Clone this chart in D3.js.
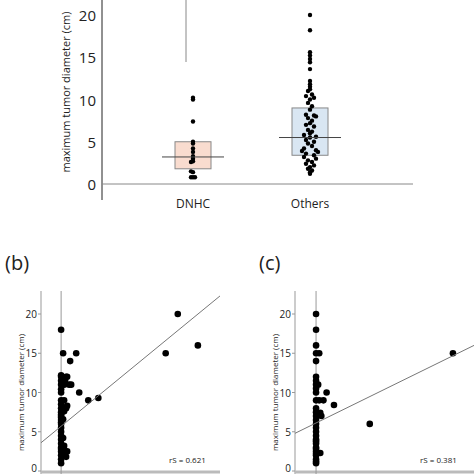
<!DOCTYPE html>
<html><head><meta charset="utf-8">
<script src="https://cdn.jsdelivr.net/npm/d3@7"></script>
<style>body{margin:0;background:#fff}text{font-family:"Open Sans",sans-serif;fill:#222}</style>
</head><body><svg id="c" width="474" height="474"></svg>
<script>
// (a) group data
const groups = ["DNHC", "Others"];
const boxLow = [1.8, 3.4], boxHigh = [5, 9], medians = [3.2, 5.5];
const boxColors = ["#f9dccf", "#d9e6f2"];
const dnhcVals = [10.2, 10, 7.4, 5, 4.8, 4.2, 3.8, 3.3, 3, 2.7, 2.6, 1.5, 1.4, 0.8, 0.8, 0.8];
const dnhcOff  = [0, 0, 0, 0, 0, 0, 0, 0, 0, 0, -1, -1, 0, -1, 0, 1];
const othersVals = [20, 18.2, 15.6, 15.2, 14.8, 14.4, 13.6, 12.2, 11.8, 11.5, 11.2, 11, 10.6, 10.4, 10.2, 10, 9.6, 9.2, 8.8,
  8.2, 8.1, 8, 7.8, 7.5, 7.2, 7, 6.8, 6.4, 6.2, 6, 5.8, 5.6, 5.5, 5.2, 5, 4.8, 4.5, 4.2, 4, 3.9, 3.8, 3.6, 3.4,
  3.2, 3, 2.8, 2.6, 2.4, 2.2, 2, 1.8, 1.6, 1.4, 1.2];
const othersOff = [0, 0, 0, 0, 0, 0, 0, 0, 0, 0, 0, -1, 1, -2, 2, 0, -1, 1, 0,
  -2, 2, 3, -1, 1, 0, -2, 2, -1, 1, 0, -3, 3, 0, -2, 2, -1, 1, -3, 3, -4, 4, -2, 2,
  -3, 3, -1, 1, -2, 2, 0, -1, 1, 0, 0];
// (b) scatter
const bX = [0,0,0,0,0,0,0,0,0,0,0,0,0,0,0,0,0,0,0,0,0,0,0,0,0,0,0,0,0.3,0.2,0.4,0.5,0.6,0.2,0.3,
  0.2, 1.5, 0.9, 0.5, 0.6, 0.8, 0.3, 1, 1.8, 2.7, 3.7, 0.5, 0.6, 11.6, 13.6, 10.4, 0.4, 0.3];
const bY = [18,12.2,12,11.5,11,10.4,10,9,8.5,8,7.5,7.2,7,6.8,6.5,6.2,6,5.5,5,4.5,4,3.5,3,2.8,2.5,2,1.5,1,7.6,6.6,2.5,1.8,2.5,4.2,3.2,
  15, 15, 14, 12, 12, 11, 11, 11, 10, 9, 9.3, 8, 8.3, 20, 16, 15, 11.5, 9];
const bLine = {x: [-2, 15.8], y: [3.6, 22.3]};
// (c) scatter
const cX = [0,0,0,0,0,0,0,0,0,0,0,0,0,0,0,0,0,0,0,0,0,0,0,0,0,0,0,0,0,0,0.3,0.2,0.3,0.4,
  13, 5.1, 1, 0.7, 1.7, 0.4, 0.5];
const cY = [20,18,16,15,14,12,11.5,11,10.5,10,9,8,7.5,7,6.5,6,5.5,5,4.5,4,3.5,3,2.8,2.5,2.2,2,1.5,1.2,1,3.8,15,11,9,2.3,
  15, 6, 10, 9, 8.4, 7.4, 7];
const cLine = {x: [-2, 15], y: [4.8, 16]};
const yTicks = [0, 5, 10, 15, 20];

const svg = d3.select("#c");

// ---- panel (a)
const ya = d3.scaleLinear().domain([0, 20]).range([184, 15]);
const xa = d3.scalePoint().domain(groups).range([193, 310]);
svg.append("line").attr("x1", 102).attr("x2", 102).attr("y1", 0).attr("y2", 200).attr("stroke", "#222");
svg.append("line").attr("x1", 102).attr("x2", 413).attr("y1", ya(0)).attr("y2", ya(0)).attr("stroke", "#888");
svg.append("line").attr("x1", 186).attr("x2", 186).attr("y1", 0).attr("y2", 62).attr("stroke", "#888");
yTicks.forEach(t => svg.append("text").attr("x", 96).attr("y", ya(t) + 6).attr("text-anchor", "end")
  .attr("font-size", 15).text(t));
svg.append("text").attr("transform", "translate(70,92) rotate(-90)").attr("text-anchor", "middle")
  .attr("font-size", 11).text("maximum tumor diameter (cm)");
groups.forEach((g, i) => {
  const cx = xa(g);
  svg.append("rect").attr("x", cx - 18).attr("width", 36).attr("y", ya(boxHigh[i]))
    .attr("height", ya(boxLow[i]) - ya(boxHigh[i])).attr("fill", boxColors[i]).attr("stroke", "#888");
  svg.append("text").attr("x", cx).attr("y", 208).attr("text-anchor", "middle").attr("font-size", 12).text(g);
});
const dots = (vals, off, g) => vals.forEach((v, i) => svg.append("circle")
  .attr("cx", xa(g) + off[i] * 2).attr("cy", ya(v)).attr("r", 2.2).attr("fill", "#000"));
dots(dnhcVals, dnhcOff, "DNHC");
dots(othersVals, othersOff, "Others");
groups.forEach((g, i) => svg.append("line").attr("x1", xa(g) - 31).attr("x2", xa(g) + 31)
  .attr("y1", ya(medians[i])).attr("y2", ya(medians[i])).attr("stroke", "#444"));

// ---- panels (b), (c)
function scatter(left, right, xd, xs, ys, line, label, rs, rsX) {
  const x = d3.scaleLinear().domain(xd).range([left, right]);
  const y = d3.scaleLinear().domain([0, 20]).range([471, 314]);
  svg.append("text").attr("x", left - 36).attr("y", 270).attr("font-size", 20).text(label);
  svg.append("line").attr("x1", left).attr("x2", left).attr("y1", 291).attr("y2", 474).attr("stroke", "#999");
  svg.append("line").attr("x1", left).attr("x2", right).attr("y1", 472).attr("y2", 472).attr("stroke", "#bbb").attr("stroke-width", 3);
  svg.append("line").attr("x1", x(0)).attr("x2", x(0)).attr("y1", 291).attr("y2", 474).attr("stroke", "#999");
  yTicks.forEach(t => {
    svg.append("text").attr("x", left - 4).attr("y", t === 0 ? y(t) + 1 : y(t) + 4).attr("text-anchor", "end")
      .attr("font-size", 10).attr("fill", "#555").text(t);
    svg.append("line").attr("x1", left - 3).attr("x2", left).attr("y1", y(t)).attr("y2", y(t)).attr("stroke", "#999");
  });
  svg.append("text").attr("transform", `translate(${left - 17},${y(10)}) rotate(-90)`).attr("text-anchor", "middle")
    .attr("font-size", 8).attr("fill", "#555").text("maximum tumor diameter (cm)");
  xs.forEach((v, i) => svg.append("circle").attr("cx", x(v)).attr("cy", y(ys[i])).attr("r", 3.3).attr("fill", "#000"));
  svg.append("line").attr("x1", x(line.x[0])).attr("x2", x(line.x[1]))
    .attr("y1", y(line.y[0])).attr("y2", y(line.y[1])).attr("stroke", "#777");
  svg.append("text").attr("x", rsX).attr("y", 463).attr("font-size", 8).attr("fill", "#333").text(rs);
}
scatter(41, 220, [-2, 15.8], bX, bY, bLine, "(b)", "rS = 0.621", 169);
scatter(295, 474, [-2, 15], cX, cY, cLine, "(c)", "rS = 0.381", 420);
</script></body></html>
